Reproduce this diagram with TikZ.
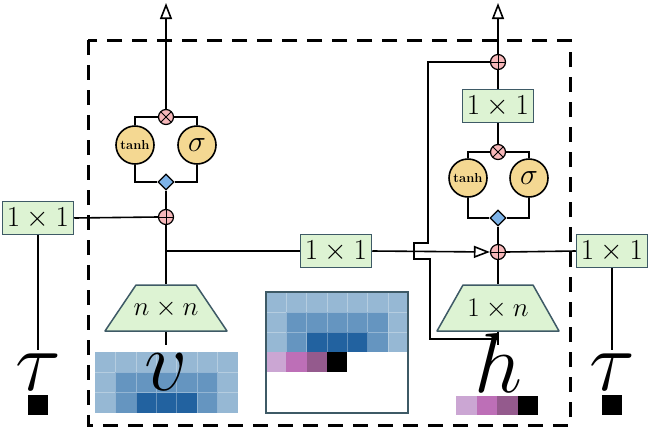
\RequirePackage{fix-cm}
\documentclass[tikz,border=0pt]{standalone}
\usetikzlibrary{arrows.meta,shapes.geometric}
\definecolor{gfill}{HTML}{DDF3D3}
\definecolor{gdraw}{HTML}{3E5A66}
\definecolor{yfill}{HTML}{F4D892}
\definecolor{pfill}{HTML}{F6B7B9}
\definecolor{bfill}{HTML}{7DB3E8}
\definecolor{bL}{HTML}{96B8D4}
\definecolor{bM}{HTML}{6595C0}
\definecolor{bD}{HTML}{2262A0}
\definecolor{pL}{HTML}{CBA6D3}
\definecolor{pM}{HTML}{BD6FB7}
\definecolor{pD}{HTML}{945A8D}
\begin{document}
\begin{tikzpicture}[x=1pt,y=-1pt,line width=1.6pt,
  box/.style={draw=gdraw,fill=gfill,line width=1.5pt,minimum width=71pt,minimum height=33pt,inner sep=0pt,font=\fontsize{29}{30}\selectfont},
  act/.style={circle,draw,fill=yfill,minimum size=38pt,inner sep=0pt},
  opc/.style={circle,draw,fill=pfill,minimum size=15pt,inner sep=0pt,line width=1.2pt},
  plus/.style={opc,path picture={\draw[line width=1pt] (path picture bounding box.north)--(path picture bounding box.south) (path picture bounding box.west)--(path picture bounding box.east);}},
  times/.style={opc,path picture={\draw[line width=1pt] (path picture bounding box.north west)--(path picture bounding box.south east) (path picture bounding box.south west)--(path picture bounding box.north east);}},
  dia/.style={diamond,draw,fill=bfill,minimum size=16pt,inner sep=0pt,line width=1.2pt},
  big/.style={inner sep=0pt,font=\fontsize{85}{85}\selectfont},
  otip/.style={-{Triangle[open,length=16pt,width=12pt]}},
  trap/.style={draw=gdraw,fill=gfill,line width=1.5pt,line join=round}]
\useasboundingbox (0,0) rectangle (651,432);
% dashed border
\draw[line width=3pt,dash pattern=on 15pt off 10pt] (88,40) rectangle (570,425);
% v grid
\foreach \c [count=\i from 0] in {bL,bL,bL,bL,bL,bL,bL} \fill[\c] (95+20.43*\i,352) rectangle ++(20.43,20.3);
\foreach \c [count=\i from 0] in {bL,bM,bM,bM,bM,bM,bL} \fill[\c] (95+20.43*\i,372.3) rectangle ++(20.43,20.3);
\foreach \c [count=\i from 0] in {bL,bM,bD,bD,bD,bM,bL} \fill[\c] (95+20.43*\i,392.6) rectangle ++(20.43,20.4);
\draw[white,opacity=0.3,line width=0.6pt] \foreach \i in {1,...,6} {(95+20.43*\i,352)--(95+20.43*\i,413)} (95,372.3)--(238,372.3) (95,392.6)--(238,392.6);
% middle grid
\foreach \c [count=\i from 0] in {bL,bL,bL,bL,bL,bL,bL} \fill[\c] (266+20.3*\i,292) rectangle ++(20.3,20);
\foreach \c [count=\i from 0] in {bL,bM,bM,bM,bM,bM,bL} \fill[\c] (266+20.3*\i,312) rectangle ++(20.3,20);
\foreach \c [count=\i from 0] in {bL,bM,bD,bD,bD,bM,bL} \fill[\c] (266+20.3*\i,332) rectangle ++(20.3,20);
\foreach \c [count=\i from 0] in {pL,pM,pD,black} \fill[\c] (266+20.3*\i,352) rectangle ++(20.3,20);
\draw[white,opacity=0.3,line width=0.6pt] \foreach \i in {1,...,6} {(266+20.3*\i,292)--(266+20.3*\i,352)} (266,312)--(408,312) (266,332)--(408,332);
\draw[gdraw,line width=1.5pt] (266,292) rectangle (408,413);
% h bar
\foreach \c [count=\i from 0] in {pL,pM,pD,black} \fill[\c] (456+20.5*\i,396) rectangle ++(20.5,19);
% squares for tau
\fill (28,395) rectangle (48,415);
\fill (602,395) rectangle (622,415);

% left column
\node[times] (lm) at (166,117) {};
\node[act] (lt) at (135,145) {\fontsize{13}{13}\selectfont\bfseries tanh};
\node[act] (ls) at (197,145) {\fontsize{30}{30}\selectfont$\sigma$};
\node[dia] (ld) at (166,182) {};
\node[plus] (lp) at (166,217) {};
\coordinate (lj) at (166,251);
\node[minimum height=46pt,minimum width=60pt,inner sep=0pt] (tv) at (166,308) {};
\draw[trap] (136,285)--(196,285)--(227,331)--(105,331)--cycle;
\node[font=\fontsize{27}{28}\selectfont] at (166,309) {$n\times n$};
\node[big] (v) at (166,372) {$v$};
\coordinate (lout) at (166,3);
\node[box] (l11) at (38,218) {$1\times1$};
\node[big] (lt1) at (38,372) {$\tau$};
\coordinate (lte) at (38,350);
\node[box] (m11) at (336,251) {$1\times1$};

\draw[otip] (lm.north) -- (lout);
\draw (lm.west) -| (lt.north);
\draw (lm.east) -| (ls.north);
\draw (ld.west) -| (lt.south);
\draw (ld.east) -| (ls.south);
\draw (ld.south) -- (lp.north);
\draw (lp.south) -- (tv.north);
\draw (tv.south) -- (166,345);
\draw (l11.east) -- (lp.west);
\draw (l11.south) -- (lte);
\draw (lj) -- (m11.west);

% right column
\node[plus] (rp2) at (498,62) {};
\node[box] (r11) at (498,106) {$1\times1$};
\node[times] (rm) at (498,152) {};
\node[act] (rt) at (468,178) {\fontsize{13}{13}\selectfont\bfseries tanh};
\node[act] (rs) at (529,178) {\fontsize{30}{30}\selectfont$\sigma$};
\node[dia] (rd) at (498,218) {};
\node[plus] (rp) at (498,252) {};
\node[minimum height=46pt,minimum width=70pt,inner sep=0pt] (tn) at (498,308) {};
\draw[trap] (463,285)--(533,285)--(559,331)--(437,331)--cycle;
\node[font=\fontsize{27}{28}\selectfont] at (498,309) {$1\times n$};
\node[big] (h) at (498,363) {$h$};
\coordinate (rout) at (498,3);
\node[box] (rr11) at (612,251) {$1\times1$};
\node[big] (rt1) at (612,372) {$\tau$};
\coordinate (rte) at (612,350);

\draw[otip] (rp2.north) -- (rout);
\draw (rp2.south) -- (r11.north);
\draw (r11.south) -- (rm.north);
\draw (rm.west) -| (rt.north);
\draw (rm.east) -| (rs.north);
\draw (rd.west) -| (rt.south);
\draw (rd.east) -| (rs.south);
\draw (rd.south) -- (rp.north);
\draw (rp.south) -- (tn.north);
\draw (tn.south) -- (498,345);
\draw (rp.east) -- (rr11.west);
\draw (rr11.south) -- (rte);
\draw[-{Triangle[open,length=16pt,width=12pt]}] (m11.east) -- (rp.west);
\draw[line join=miter] (rp2.west) -| (428,243) -- (414,243) -- (414,259) -- (430,259) |- (498,339);
\end{tikzpicture}
\end{document}
